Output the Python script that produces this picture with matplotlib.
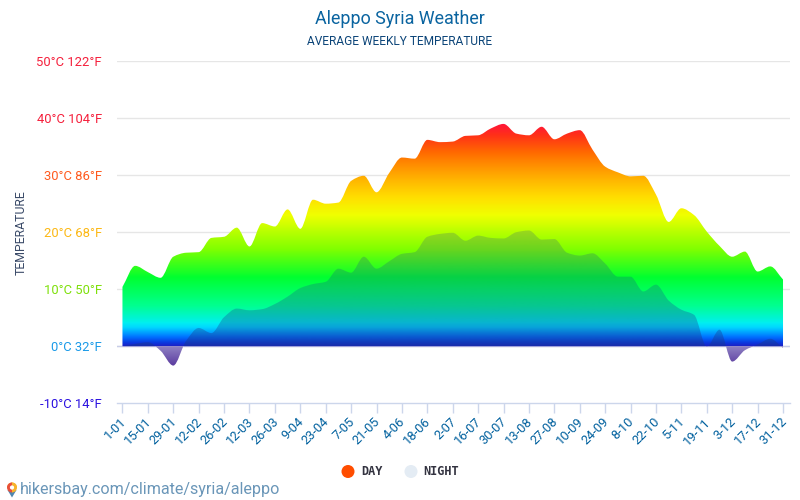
import numpy as np
import matplotlib
matplotlib.use("Agg")
import matplotlib.pyplot as plt
from matplotlib.path import Path
from matplotlib.patches import PathPatch, Circle, Polygon, Wedge
from matplotlib.colors import LinearSegmentedColormap, to_rgb
from matplotlib.transforms import ScaledTranslation

plt.rcParams['font.family'] = ['Roboto', 'DejaVu Sans']

title = "Aleppo Syria Weather"
subtitle = "AVERAGE WEEKLY TEMPERATURE"
footer = "hikersbay.com/climate/syria/aleppo"
week_labels = ["1-01","15-01","29-01","12-02","26-02","12-03","26-03","9-04","23-04",
               "7-05","21-05","4-06","18-06","2-07","16-07","30-07","13-08","27-08",
               "10-09","24-09","8-10","22-10","5-11","19-11","3-12","17-12","31-12"]
day = [10.4,14.1,13.0,12.0,15.7,16.4,16.5,19.0,19.2,20.8,17.5,21.6,21.0,24.0,20.6,25.7,25.0,25.2,
       29.0,29.9,27.0,30.4,33.1,32.9,36.2,35.8,35.9,36.9,37.0,38.2,39.0,37.3,37.0,38.5,36.3,37.3,
       37.9,34.5,31.5,30.5,29.8,29.9,26.6,21.8,24.2,23.0,20.1,17.6,15.7,16.6,13.1,14.0,11.7]
night = [0.0,0.4,0.7,-0.8,-3.4,0.9,3.2,2.3,5.1,6.6,6.3,6.5,7.4,8.7,10.2,10.9,11.3,13.6,
         12.9,15.7,13.6,14.9,16.2,16.5,19.2,19.7,19.9,18.5,19.4,19.0,18.9,20.0,20.3,18.7,18.8,16.4,
         15.9,16.3,14.5,12.2,12.2,9.6,10.8,8.0,6.4,5.5,-0.1,2.9,-2.7,-0.7,0.3,1.3,-0.3]
y_ticks = [-10,0,10,20,30,40,50]
y_labels = ["-10°C 14°F","0°C 32°F","10°C 50°F","20°C 68°F","30°C 86°F","40°C 104°F","50°C 122°F"]
y_colors = ["#2a10e0","#1a9ae8","#7ee00a","#fcb814","#ff5a1e","#f5203c","#f5203c"]

W, H = 800, 500
fig = plt.figure(figsize=(8, 5), dpi=100)
ax = fig.add_axes([117/W, 1-403.2/H, (790-117)/W, (403.2-61.2)/H])
ax.set_xlim(-0.43, 52.55)
ax.set_ylim(-10, 50)

def monotone_path(x, y, base=0.0):
    x = np.asarray(x, float); y = np.asarray(y, float)
    d = np.diff(y) / np.diff(x)
    m = np.zeros_like(y)
    m[0], m[-1] = d[0], d[-1]
    for i in range(1, len(y)-1):
        if d[i-1]*d[i] > 0:
            m[i] = 2*d[i-1]*d[i]/(d[i-1]+d[i])
    verts = [(x[0], base), (x[0], y[0])]
    codes = [Path.MOVETO, Path.LINETO]
    for i in range(len(x)-1):
        h = (x[i+1]-x[i])/3
        verts += [(x[i]+h, y[i]+m[i]*h), (x[i+1]-h, y[i+1]-m[i+1]*h), (x[i+1], y[i+1])]
        codes += [Path.CURVE4]*3
    verts += [(x[-1], base), (x[0], base)]
    codes += [Path.LINETO, Path.CLOSEPOLY]
    return Path(verts, codes)

for t in y_ticks:
    if t != -10:
        ax.axhline(t, color="#e6e6e6", lw=1, zorder=1)

xs = np.arange(len(day))
gy = np.linspace(-10, 50, 601).reshape(-1, 1)
box = [-0.43, 52.55]

stops_day = [(0.0,"#1a22c8"),(0.6,"#0a3ae0"),(1.5,"#0070ff"),(3.2,"#00d8ff"),(4.0,"#00f0f0"),
             (7.0,"#00ff90"),(12.0,"#00ff30"),(17.0,"#80ff00"),(23.0,"#f0ff00"),(26.0,"#ffe000"),
             (30.0,"#ffaa00"),(34.0,"#ff6a00"),(37.0,"#ff3018"),(39.5,"#ff1040"),(50.0,"#ff1040")]
vmin, vmax = stops_day[0][0], stops_day[-1][0]
cmap_day = LinearSegmentedColormap.from_list("day", [((v-vmin)/(vmax-vmin), c) for v, c in stops_day], N=512)
day_patch = PathPatch(monotone_path(xs, day), fc="none", ec="none", transform=ax.transData, zorder=2)
ax.add_patch(day_patch)
im = ax.imshow(np.clip(gy, vmin, vmax), origin="lower", extent=box+[-10, 50], aspect="auto",
               cmap=cmap_day, vmin=vmin, vmax=vmax, zorder=2, interpolation="bilinear")
im.set_clip_path(day_patch)

# night tint above zero: a blue wash that is stronger close to 0
tint = to_rgb("#1a3a90")
stops_night = [(0.0, 0.5), (3.0, 0.34), (10.0, 0.24), (21.0, 0.2)]
nmin, nmax = stops_night[0][0], stops_night[-1][0]
cmap_night = LinearSegmentedColormap.from_list(
    "night", [((v-nmin)/(nmax-nmin), (*tint, a)) for v, a in stops_night], N=256)
gy_warm = np.linspace(0, 21, 211).reshape(-1, 1)
im3 = ax.imshow(gy_warm, origin="lower", extent=box+[0, 21], aspect="auto", cmap=cmap_night,
                vmin=nmin, vmax=nmax, zorder=3, interpolation="bilinear")
im3.set_clip_path(PathPatch(monotone_path(xs, night), transform=ax.transData))

cold = LinearSegmentedColormap.from_list("cold", ["#5a3a9e", "#8f82c4"], N=128)
gy_cold = np.linspace(-10, 0, 201).reshape(-1, 1)
im2 = ax.imshow(gy_cold, origin="lower", extent=box+[-10, 0], aspect="auto", cmap=cold,
                vmin=-3.5, vmax=0, zorder=3, interpolation="bilinear")
im2.set_clip_path(PathPatch(monotone_path(xs, night), transform=ax.transData))
ax.set_xlim(-0.43, 52.55)
ax.set_ylim(-10, 50)
ax.axhline(0, color="#c8cde8", lw=1, xmin=0, xmax=1, zorder=1.5)

for s in ["top", "left", "right"]:
    ax.spines[s].set_visible(False)
ax.spines["bottom"].set_color("#ccd6eb")
ax.spines["bottom"].set_linewidth(1)
ax.set_xticks(xs[::2])
ax.set_xticklabels(week_labels, rotation=45, ha="right", rotation_mode="anchor",
                   fontsize=9.3, color="#00609e")
ax.tick_params(axis="x", length=7, width=1, color="#ccd6eb", pad=1)
shift = ScaledTranslation(-3/100, -1/100, fig.dpi_scale_trans)
for lab in ax.get_xticklabels():
    lab.set_transform(lab.get_transform() + shift)
ax.set_yticks(y_ticks)
ax.set_yticklabels(y_labels, fontsize=9.4)
for lab, c in zip(ax.get_yticklabels(), y_colors):
    lab.set_color(c)
ax.tick_params(axis="y", length=0, pad=11)

fig.text(400/W, 1-18.5/H, title, ha="center", va="center", fontsize=12.9, color="#0a64a0")
fig.text(400/W, 1-41.5/H, subtitle, ha="center", va="center", fontsize=8.55, color="#0b4478")
fig.text(21/W, 1-233/H, "TEMPERATURE", rotation=90, ha="center", va="center", fontsize=8.85, color="#3a4a68")

ov = fig.add_axes([0, 0, 1, 1], facecolor="none")
ov.set_xlim(0, W); ov.set_ylim(H, 0); ov.axis("off")
ov.add_patch(Circle((348, 471.5), 6.5, fc="#ff4d00", ec="none"))
ov.add_patch(Circle((411, 471.5), 6.5, fc="#e4ecf4", ec="none"))
ov.text(361, 471.5, "DAY", family=["DejaVu Sans Mono"], fontweight="bold", fontsize=8.6, color="#333340", va="center")
ov.text(423.5, 471.5, "NIGHT", family=["DejaVu Sans Mono"], fontweight="bold", fontsize=8.6, color="#333340", va="center")
ov.text(20, 489.5, footer, fontsize=11.65, color="#6a96b8", va="center", ha="left")
ov.add_patch(Polygon([(7.5, 490), (16.5, 490), (12, 497.5)], closed=True, fc="#4f86b0", ec="none"))
ov.add_patch(Wedge((12, 487.5), 5, 180, 360, fc="#f7b32b", ec="none"))
ov.add_patch(Wedge((12, 487.5), 5, 90, 270, fc="#e8503a", ec="none"))
ov.add_patch(Wedge((12, 487.5), 5, 270, 90, fc="#f7b32b", ec="none"))
ov.add_patch(Circle((12, 487.5), 2.1, fc="white", ec="none"))

fig.savefig("out.png", dpi=100)
